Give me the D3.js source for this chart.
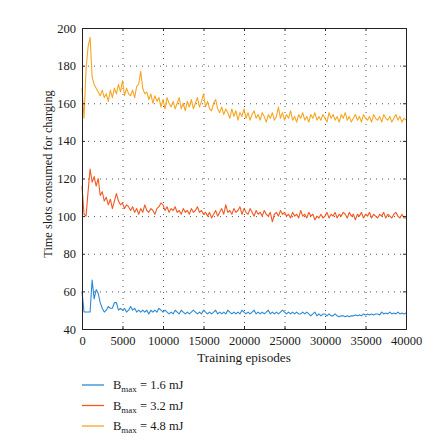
<!DOCTYPE html>
<html>
<head>
<meta charset="utf-8">
<script src="https://cdn.jsdelivr.net/npm/d3@7"></script>
<style>
  body { margin: 0; background: #fff; }
  text { font-family: "Liberation Serif", "DejaVu Serif", serif; fill: #1a1a1a; }
</style>
</head>
<body>
<div id="svg"></div>
<script>
let w = 441;
let h = 440;
let margin = {top: 28, right: 35, bottom: 111, left: 82};

// training episodes, one sample every 250 episodes
let episodes = d3.range(0, 40001, 250);
let xTicks = [0, 5000, 10000, 15000, 20000, 25000, 30000, 35000, 40000];
let yTicks = [40, 60, 80, 100, 120, 140, 160, 180, 200];

let labels = ['1.6 mJ', '3.2 mJ', '4.8 mJ'];
let colors = ['#2b8ad4', '#f25a24', '#f6a623'];

let blue = [60,49,49,49,49,66,56,61,59,54,51,49,50,52,51,51,54,54,50,51,
  50,51,49,50,52,50,51,49,50,49,50,49,50,48,50,49,50,49,51,50,
  49,50,49,48,49,48,50,49,48,50,49,48,49,48,49,50,49,48,49,48,
  50,49,48,49,48,49,50,48,49,48,49,48,50,49,48,49,48,49,48,50,
  49,48,49,48,49,50,48,49,48,49,48,49,50,48,49,48,49,48,49,50,
  49,48,49,48,49,48,49,48,48,49,48,49,48,47,48,49,47,48,47,48,
  48,47,48,47,47,48,47,46.5,47,47,46.5,47,46.5,47,47,47.5,47,47.5,47,48,
  47.5,48,47.5,48,47.5,48,48,47.5,49,48,48.5,48,49,48,48.5,48,49,48,48.5,48,
  48.5];

let red = [116,101,100,113,125,118,121,116,120,111,113,108,110,106,109,104,108,112,108,106,
  107,104,106,105,103,105,102,104,101,104,102,106,103,102,104,103,101,104,105,107,
  106,103,105,102,104,103,105,102,103,101,104,102,103,101,104,102,103,105,102,103,
  101,102,100,102,99,101,103,100,102,104,101,106,102,103,101,104,102,103,105,101,
  104,102,101,104,102,100,103,101,102,100,103,101,100,102,97,101,102,100,103,101,
  102,100,101,99,102,100,101,99,103,100,101,99,102,100,101,98,100,99,101,99,
  100,102,99,101,100,102,99,101,100,102,101,99,102,100,101,98,101,100,102,99,
  101,100,102,99,101,100,99,101,100,102,99,101,100,99,101,102,100,99,101,99,
  99];

let yellow = [168,152,178,190,195,174,170,168,166,164,167,163,165,161,167,163,168,165,170,166,
  172,164,168,165,164,167,163,169,170,177,168,165,166,162,165,160,164,161,163,158,
  162,157,163,160,158,161,157,160,163,157,160,156,161,158,162,157,160,163,158,161,
  165,158,161,157,156,160,162,157,155,158,154,157,155,152,157,153,156,151,155,153,
  157,152,155,151,154,156,152,154,151,155,153,150,154,152,155,151,153,158,152,155,
  151,154,152,156,151,153,150,154,152,155,151,153,150,154,152,155,151,153,151,154,
  152,150,155,152,154,151,153,150,154,152,155,151,153,150,152,154,151,153,150,154,
  152,151,153,150,154,152,151,153,150,154,152,151,153,150,152,154,151,153,150,152,
  151];

let series = [blue, red, yellow];

let svg = d3.select('#svg')
  .append('svg')
  .attr('width', w)
  .attr('height', h);

let xScale = d3.scaleLinear()
  .domain([0, 40000])
  .range([margin.left, w - margin.right]);

let yScale = d3.scaleLinear()
  .domain([40, 200])
  .range([h - margin.bottom, margin.top]);

let plotW = w - margin.left - margin.right;
let plotH = h - margin.top - margin.bottom;

// dotted grid
svg.append('g')
  .attr('class', 'grid')
  .attr('transform', 'translate(0,' + (h - margin.bottom) + ')')
  .call(d3.axisBottom(xScale).tickValues(xTicks.slice(1, -1)).tickSize(-plotH).tickFormat(''))
  .call(g => g.select('.domain').remove());
svg.append('g')
  .attr('class', 'grid')
  .attr('transform', 'translate(' + margin.left + ',0)')
  .call(d3.axisLeft(yScale).tickValues(yTicks.slice(1, -1)).tickSize(-plotW).tickFormat(''))
  .call(g => g.select('.domain').remove());
svg.selectAll('.grid line')
  .attr('stroke', '#555')
  .attr('stroke-width', 1)
  .attr('stroke-dasharray', '1,5');

// series lines
let line = d3.line()
  .x((d, i) => xScale(episodes[i]))
  .y(d => yScale(d));

svg.selectAll('.series')
  .data(series)
  .enter()
  .append('path')
  .attr('class', 'series')
  .attr('d', d => line(d))
  .attr('fill', 'none')
  .attr('stroke', (d, i) => colors[i])
  .attr('stroke-width', 1.1)
  .attr('stroke-linejoin', 'round');

// axes with inward ticks on all four sides
let xAxis = d3.axisBottom(xScale).tickValues(xTicks).tickSize(-3).tickPadding(7).tickFormat(d3.format('d'));
let yAxis = d3.axisLeft(yScale).tickValues(yTicks).tickSize(-3).tickPadding(6);

svg.append('g')
  .attr('id', 'x-axis')
  .attr('transform', 'translate(0,' + (h - margin.bottom) + ')')
  .call(xAxis);
svg.append('g')
  .attr('id', 'y-axis')
  .attr('transform', 'translate(' + margin.left + ',0)')
  .call(yAxis);
svg.append('g')
  .attr('transform', 'translate(0,' + margin.top + ')')
  .call(d3.axisTop(xScale).tickValues(xTicks).tickSize(-3).tickFormat(''));
svg.append('g')
  .attr('transform', 'translate(' + (w - margin.right) + ',0)')
  .call(d3.axisRight(yScale).tickValues(yTicks).tickSize(-3).tickFormat(''));

svg.selectAll('.domain').attr('stroke', '#222');
svg.selectAll('.tick line').filter(function() { return !this.closest('.grid'); }).attr('stroke', '#222');
svg.selectAll('#x-axis text, #y-axis text')
  .style('font-family', '"Liberation Serif", serif')
  .style('font-size', '12.5px')
  .attr('fill', '#1a1a1a');

// axis titles
svg.append('text')
  .text('Training episodes')
  .attr('x', xScale(20000))
  .attr('y', 362)
  .attr('text-anchor', 'middle')
  .style('font-size', '13.2px');

svg.append('text')
  .text('Time slots consumed for charging')
  .attr('transform', 'translate(52,174) rotate(-90)')
  .attr('text-anchor', 'middle')
  .style('font-size', '12.3px');

// legend
let legend = svg.append('g').attr('transform', 'translate(82,385)');
labels.forEach((lab, i) => {
  let g = legend.append('g').attr('transform', 'translate(0,' + (i * 20.5) + ')');
  g.append('line')
    .attr('x1', 0).attr('x2', 22)
    .attr('y1', 0).attr('y2', 0)
    .attr('stroke', colors[i])
    .attr('stroke-width', 1.3);
  let t = g.append('text')
    .attr('x', 31)
    .attr('y', 4)
    .style('font-size', '12.5px');
  t.append('tspan').text('B');
  t.append('tspan').text('max').attr('dy', 3).style('font-size', '9px');
  t.append('tspan').text(' = ' + lab).attr('dy', -3);
});
</script>
</body>
</html>
